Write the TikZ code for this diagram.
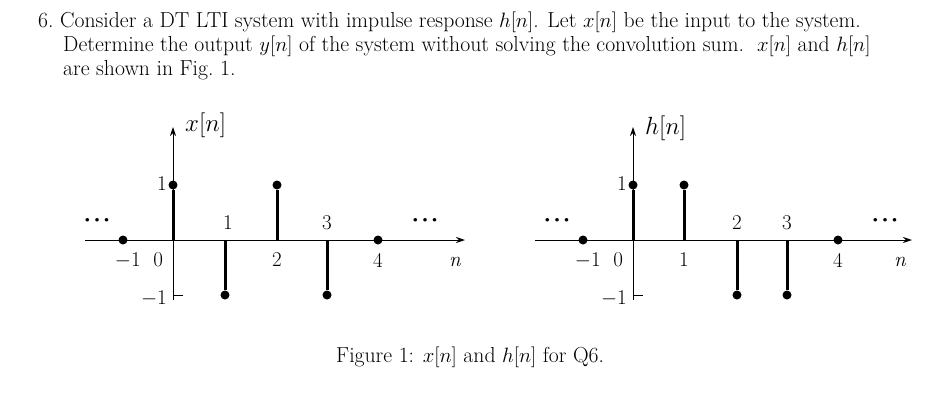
\documentclass[tikz,border=0pt]{standalone}
\usetikzlibrary{arrows.meta}
\begin{document}
\begin{tikzpicture}[x=1pt,y=-1pt,
  txt/.style={inner sep=0pt,anchor=base west,font=\fontsize{21.7}{26}\selectfont},
  lab/.style={inner sep=1pt,font=\fontsize{21}{24}\selectfont},
  ell/.style={inner sep=1pt,font=\fontsize{16}{18}\selectfont},
  big/.style={inner sep=0pt,font=\fontsize{34}{38}\selectfont},
  ax/.style={line width=1pt,-{Stealth[length=9pt,width=6pt]}},
  stem/.style={line width=3pt},
  dotc/.style={circle,fill=black,inner sep=0pt,minimum size=9pt}]
\useasboundingbox (0,0) rectangle (929,400);
\node[txt] (l1) at (38,27) {6.\ Consider a DT LTI system with impulse response $h[n]$. Let $x[n]$ be the input to the system.};
\node[txt] (l2) at (63,51) {Determine the output $y[n]$ of the system without solving the convolution sum.\ \ $x[n]$ and $h[n]$};
\node[txt] (l3) at (63,75) {are shown in Fig.~1.};
\node[txt] (cap) at (336,362) {Figure 1: $x[n]$ and $h[n]$ for Q6.};
% left plot
\coordinate (La) at (85,240); \coordinate (Lb) at (465,240);
\coordinate (Lv0) at (173,300); \coordinate (Lv1) at (173,127);
\draw[ax] (La) -- (Lb);
\draw[ax] (Lv0) -- (Lv1);
\node[big,anchor=west] (xn) at (185,125) {$x[n]$};
\draw[line width=0.8pt] (173,295) -- (183,295);
\foreach \n/\x/\v in {m1/123/0,z/173/1,a/225/-1,b/277/1,c/327/-1,d/378/0}{
  \coordinate (Lb\n) at (\x,240);
  \node[dotc] (Ld\n) at (\x,{240-55*\v}) {};
  \draw[stem] (Lb\n) -- (Ld\n);}
\node[lab,anchor=east] (L1) at (168,184) {1};
\node[lab,anchor=east] (Lm1) at (168,298) {$-$1};
\node[lab] (Lt1) at (228,223) {1};
\node[lab] (Lt3) at (327,223) {3};
\node[lab] (Lt2) at (277,260) {2};
\node[lab] (Lt4) at (378,260) {4};
\node[lab] (Ltm) at (139,260) {$-$1\ \ 0};
\node[lab] (Ln) at (455,262) {\itshape n};
\node[ell] (Ldl) at (97,221) {\textbullet\kern-2pt\textbullet\kern-2pt\textbullet};
\node[ell] (Ldr) at (425,221) {\textbullet\kern-2pt\textbullet\kern-2pt\textbullet};
% right plot
\coordinate (Ra) at (535,240); \coordinate (Rb) at (912,240);
\coordinate (Rv0) at (633,300); \coordinate (Rv1) at (633,127);
\draw[ax] (Ra) -- (Rb);
\draw[ax] (Rv0) -- (Rv1);
\node[big,anchor=west] (hn) at (645,128) {$h[n]$};
\draw[line width=0.8pt] (633,295) -- (643,295);
\foreach \n/\x/\v in {m1/583/0,z/633/1,a/684/1,b/737/-1,c/787/-1,d/838/0}{
  \coordinate (Rb\n) at (\x,240);
  \node[dotc] (Rd\n) at (\x,{240-55*\v}) {};
  \draw[stem] (Rb\n) -- (Rd\n);}
\node[lab,anchor=east] (R1) at (628,184) {1};
\node[lab,anchor=east] (Rm1) at (628,298) {$-$1};
\node[lab] (Rt2) at (737,223) {2};
\node[lab] (Rt3) at (787,223) {3};
\node[lab] (Rt1) at (684,260) {1};
\node[lab] (Rt4) at (838,260) {4};
\node[lab] (Rtm) at (599,260) {$-$1\ \ 0};
\node[lab] (Rn) at (900,262) {\itshape n};
\node[ell] (Rdl) at (557,221) {\textbullet\kern-2pt\textbullet\kern-2pt\textbullet};
\node[ell] (Rdr) at (885,221) {\textbullet\kern-2pt\textbullet\kern-2pt\textbullet};
\end{tikzpicture}
\end{document}
